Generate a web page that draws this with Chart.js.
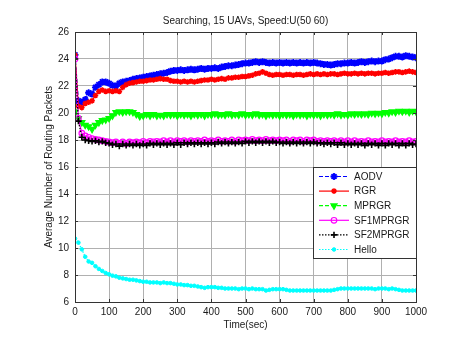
<!DOCTYPE html>
<html lang="en"><head>
<title>Routing Packets</title>
<meta charset="utf-8">
<style type="text/css">
body { margin:0; background-color:#ffffff; }
</style>
<script src="https://cdn.jsdelivr.net/npm/chart.js"></script>
<script>

var chartTitle="Searching, 15 UAVs, Speed:U(50 60)";
var xTitle="Time(sec)";
var yTitle="Average Number of Routing Packets";

var time=[0,10,20,30,40,50,60,70,80,90,100,110,120,130,140,150,160,170,180,190,
  200,210,220,230,240,250,260,270,280,290,300,310,320,330,340,350,360,370,380,390,
  400,410,420,430,440,450,460,470,480,490,500,510,520,530,540,550,560,570,580,590,
  600,610,620,630,640,650,660,670,680,690,700,710,720,730,740,750,760,770,780,790,
  800,810,820,830,840,850,860,870,880,890,900,910,920,930,940,950,960,970,980,990,1000];

var aodv=[24.3,20.9,20.8,21.0,21.5,21.4,21.9,22.1,22.3,22.3,22.2,22.05,22.0,22.2,22.3,22.35,22.4,22.5,22.55,22.6,
  22.65,22.7,22.75,22.8,22.85,22.9,22.95,23.0,23.1,23.15,23.15,23.2,23.15,23.2,23.25,23.2,23.25,23.3,23.25,23.3,
  23.3,23.35,23.3,23.4,23.45,23.5,23.5,23.55,23.6,23.65,23.7,23.7,23.75,23.8,23.75,23.8,23.75,23.7,23.75,23.7,
  23.75,23.7,23.75,23.7,23.75,23.7,23.75,23.7,23.75,23.7,23.75,23.7,23.65,23.6,23.6,23.55,23.6,23.65,23.65,23.7,
  23.7,23.75,23.7,23.75,23.8,23.75,23.8,23.85,23.8,23.85,23.85,23.95,24.0,24.1,24.2,24.2,24.15,24.25,24.2,24.15,24.1];

var rgr=[24.3,20.5,20.4,20.7,20.8,20.9,21.3,21.6,21.7,21.6,21.65,21.6,21.65,21.6,21.9,22.1,22.2,22.25,22.3,22.35,
  22.35,22.4,22.45,22.45,22.5,22.55,22.5,22.5,22.4,22.35,22.35,22.3,22.35,22.3,22.35,22.3,22.35,22.4,22.45,22.45,
  22.5,22.45,22.5,22.55,22.5,22.6,22.6,22.65,22.65,22.7,22.7,22.75,22.8,22.9,22.95,23.05,22.95,22.85,22.8,22.85,
  22.85,22.8,22.85,22.85,22.8,22.85,22.85,22.8,22.85,22.9,22.85,22.9,22.85,22.9,22.85,22.9,22.9,22.85,22.9,22.95,
  22.9,22.9,22.95,22.9,22.95,22.9,22.95,22.95,22.9,22.95,22.95,23.0,22.95,23.0,23.05,23.05,23.0,23.05,23.1,23.05,23.0];

var mprgr=[20.1,19.6,19.3,19.1,19.0,18.8,19.1,19.3,19.45,19.5,19.6,19.8,20.05,20.1,20.05,20.1,20.1,20.05,19.9,19.75,
  19.8,19.9,19.8,19.9,19.8,19.85,19.8,19.9,19.85,19.9,19.8,19.9,19.85,19.9,19.8,19.9,19.85,19.9,19.8,19.9,
  19.85,19.95,19.85,19.9,19.85,19.95,19.85,19.9,19.85,19.95,19.85,19.9,19.85,19.95,19.85,19.9,19.8,19.9,19.85,19.9,
  19.8,19.9,19.85,19.9,19.8,19.9,19.85,19.9,19.8,19.9,19.85,19.9,19.8,19.9,19.85,19.9,19.85,19.95,19.85,19.9,
  19.85,19.95,19.9,19.95,19.9,19.95,19.9,20.0,19.95,20.0,19.95,20.05,20.0,20.1,20.05,20.15,20.1,20.15,20.05,20.15,20.1];

var sf1=[24.0,19.6,18.5,18.3,18.2,18.1,18.05,18.0,17.95,17.9,17.85,17.8,17.85,17.75,17.85,17.75,17.85,17.8,17.85,17.8,
  17.9,17.8,17.9,17.85,17.9,17.85,17.95,17.85,17.95,17.85,17.95,17.9,17.95,17.85,17.95,17.9,17.95,17.9,18.0,17.9,
  17.95,17.9,18.0,17.9,17.95,17.9,18.0,17.9,18.0,17.95,18.0,17.95,18.05,17.95,18.0,17.95,18.05,17.95,18.0,17.95,
  18.0,17.95,18.0,17.9,18.0,17.95,18.0,17.9,18.0,17.95,18.0,17.9,17.95,17.9,17.95,17.9,17.95,17.85,17.95,17.85,
  17.95,17.85,17.95,17.85,17.9,17.85,17.95,17.85,17.9,17.85,17.95,17.85,17.9,17.85,17.95,17.85,17.9,17.85,17.95,17.85,17.9];

var sf2=[24.0,19.4,18.2,18.0,17.95,17.9,17.95,17.85,17.9,17.8,17.75,17.65,17.7,17.55,17.7,17.6,17.7,17.6,17.7,17.6,
  17.7,17.6,17.75,17.65,17.75,17.65,17.75,17.65,17.75,17.65,17.8,17.65,17.8,17.7,17.8,17.7,17.8,17.7,17.8,17.7,
  17.8,17.7,17.85,17.75,17.85,17.75,17.85,17.75,17.85,17.75,17.9,17.8,17.9,17.8,17.9,17.8,17.9,17.8,17.9,17.8,
  17.85,17.75,17.85,17.75,17.85,17.75,17.85,17.75,17.85,17.75,17.85,17.75,17.8,17.7,17.8,17.7,17.8,17.65,17.8,17.65,
  17.75,17.65,17.75,17.65,17.75,17.6,17.75,17.65,17.75,17.6,17.75,17.6,17.75,17.65,17.75,17.6,17.75,17.6,17.75,17.65,17.7];

var hello=[10.7,10.4,9.9,9.35,9.0,8.9,8.65,8.45,8.3,8.15,8.05,7.95,7.9,7.8,7.75,7.7,7.65,7.65,7.6,7.55,
  7.5,7.5,7.45,7.45,7.45,7.4,7.45,7.4,7.4,7.35,7.3,7.3,7.25,7.25,7.2,7.2,7.15,7.1,7.05,7.1,
  7.1,7.1,7.05,7.05,7.0,7.0,7.0,7.0,6.95,7.0,7.0,6.95,7.0,6.95,6.95,6.95,6.85,6.9,6.95,6.95,
  6.95,6.95,6.9,6.85,6.85,6.85,6.85,6.85,6.85,6.85,6.85,6.85,6.85,6.85,6.85,6.85,6.9,6.95,7.0,7.0,
  7.0,7.0,7.0,7.0,7.0,7.0,7.0,7.0,6.95,7.0,7.0,7.0,6.95,7.0,6.95,6.9,6.85,6.85,6.85,6.85,6.85];

var seriesNames=["AODV","RGR","MPRGR","SF1MPRGR","SF2MPRGR","Hello"];

var fontName="'Liberation Sans',Arial,sans-serif";
var txtColor="#1a1a1a";

function pts(arr) { return arr.map(function(v,i){ return {x:time[i],y:v}; }); }

// MATLAB-style box, inward ticks and legend inside the axes
var boxPlugin={id:'box',
  afterDraw:function(chart) {
    var ctx=chart.ctx, a=chart.chartArea, xs=chart.scales.x, ys=chart.scales.y;
    ctx.save();
    ctx.strokeStyle="#333333"; ctx.lineWidth=1;
    ctx.strokeRect(Math.round(a.left)+0.5,Math.round(a.top)+0.5,Math.round(a.right-a.left),Math.round(a.bottom-a.top));
    ctx.beginPath();
    xs.ticks.forEach(function(t){ var p=Math.round(xs.getPixelForValue(t.value))+0.5;
      ctx.moveTo(p,a.bottom); ctx.lineTo(p,a.bottom-3); ctx.moveTo(p,a.top); ctx.lineTo(p,a.top+3); });
    ys.ticks.forEach(function(t){ var p=Math.round(ys.getPixelForValue(t.value))+0.5;
      ctx.moveTo(a.left,p); ctx.lineTo(a.left+3,p); ctx.moveTo(a.right,p); ctx.lineTo(a.right-3,p); });
    ctx.stroke();

    // legend
    var lx=313, ly=167, lw=Math.round(a.right)-313, lh=91;
    ctx.fillStyle="#ffffff"; ctx.fillRect(lx,ly,lw,lh);
    ctx.strokeStyle="#333333"; ctx.strokeRect(lx+0.5,ly+0.5,lw,lh);
    ctx.font="10px "+fontName; ctx.textBaseline="middle"; ctx.textAlign="left";
    chart.data.datasets.forEach(function(ds,i){
      var y=ly+9.5+i*14.6;
      ctx.save();
      ctx.strokeStyle=ds.borderColor; ctx.lineWidth=ds.borderWidth;
      ctx.setLineDash(ds.borderDash||[]);
      ctx.beginPath(); ctx.moveTo(319,y); ctx.lineTo(349,y); ctx.stroke();
      ctx.setLineDash([]);
      ctx.fillStyle=ds.pointBackgroundColor; ctx.strokeStyle=ds.borderColor; ctx.lineWidth=ds.pointBorderWidth;
      Chart.helpers.drawPoint(ctx,{pointStyle:ds.pointStyle,radius:ds.pointRadius,rotation:ds.pointRotation||0,
        borderWidth:ds.pointBorderWidth},334,y);
      ctx.restore();
      ctx.fillStyle=txtColor; ctx.fillText(seriesNames[i],354,y+0.5);
    });
    ctx.restore(); } };

var whiteBg={id:'whiteBg',beforeDraw:function(chart){ var c=chart.ctx; c.save(); c.fillStyle="#ffffff";
  c.fillRect(0,0,chart.width,chart.height); c.restore(); } };

function makeSet(label,data,color,dash,style,radius,fill,rot,bw,order) {
  return {label:label,data:pts(data),borderColor:color,backgroundColor:color,borderWidth:1.2,borderDash:dash,
    pointStyle:style,pointRadius:radius,pointBorderWidth:bw,pointRotation:rot,
    pointBackgroundColor:fill,pointBorderColor:color,tension:0,order:order}; }

function initChart() {
  var data={datasets:[
    makeSet(seriesNames[0],aodv,"#0000ff",[4,2],"star",3.5,"#0000ff",0,1.8,6),
    makeSet(seriesNames[1],rgr,"#ff0000",[],"star",2.8,"#ff0000",0,1.5,5),
    makeSet(seriesNames[2],mprgr,"#00ff00",[4,2],"triangle",3.5,"#00ff00",180,1.2,4),
    makeSet(seriesNames[3],sf1,"#ff00ff",[],"circle",2.8,"rgba(255,0,255,0)",0,1.2,3),
    makeSet(seriesNames[4],sf2,"#000000",[1.5,1.5],"cross",3.2,"#000000",0,1.6,2),
    makeSet(seriesNames[5],hello,"#00ffff",[1.5,1.5],"circle",1.8,"#00ffff",0,1,1)]};

  var config={type:'line',data:data,plugins:[whiteBg,boxPlugin],options:{
    responsive:false,animation:false,
    layout:{padding:{left:39,right:58,top:0,bottom:0}},
    scales:{
      x:{type:'linear',min:0,max:1000,
        ticks:{stepSize:100,padding:4,color:txtColor,font:{family:fontName,size:10},maxRotation:0,
          callback:function(v){ return String(v); }},
        grid:{color:"#b0b0b0",drawTicks:false},border:{display:false},
        title:{display:true,text:xTitle,color:txtColor,font:{family:fontName,size:10},padding:{top:2,bottom:22}},
        afterFit:function(s){ s.height=51; }},
      y:{min:6,max:26,
        ticks:{stepSize:2,padding:6,color:txtColor,font:{family:fontName,size:10}},
        grid:{color:"#b0b0b0",drawTicks:false},border:{display:false},
        title:{display:true,text:yTitle,color:txtColor,font:{family:fontName,size:10},padding:{top:4,bottom:2}},
        afterFit:function(s){ s.width=36; }}},
    plugins:{
      legend:{display:false},tooltip:{enabled:false},
      title:{display:true,text:chartTitle,fullSize:false,color:txtColor,font:{family:fontName,size:10,weight:'normal'},
        padding:{top:15,bottom:5}}}}};

  new Chart(document.getElementById('routingChart'),config); }

</script></head>
<body onload="initChart();">
<canvas id="routingChart" width="474" height="353"></canvas>
</body></html>
